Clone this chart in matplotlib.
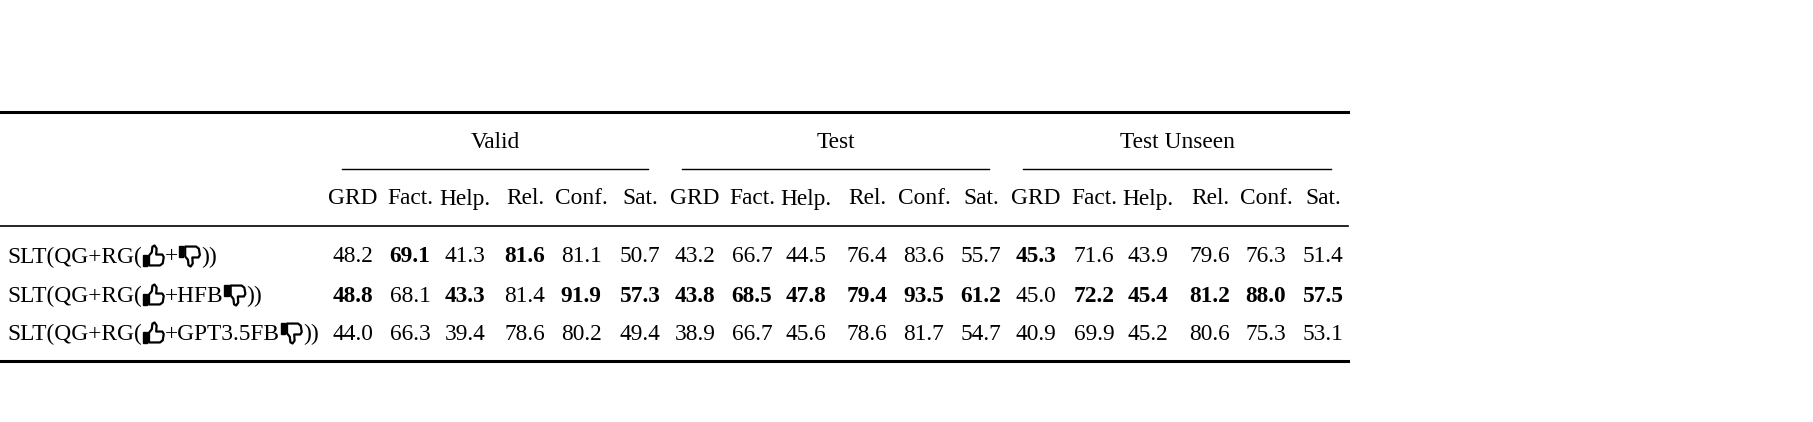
import matplotlib
matplotlib.use("Agg")
import matplotlib.pyplot as plt
from matplotlib.patches import Polygon, Rectangle

groups = ["Valid", "Test", "Test Unseen"]
metrics = ["GRD", "Fact.", "Help.", "Rel.", "Conf.", "Sat."]
# each label: text pieces, "UP"/"DOWN" stand for the thumb icons
row_labels = [
    ["SLT(QG+RG(", "UP", "+", "DOWN", "))"],
    ["SLT(QG+RG(", "UP", "+HFB", "DOWN", "))"],
    ["SLT(QG+RG(", "UP", "+GPT3.5FB", "DOWN", "))"],
]
row1 = [48.2, 69.1, 41.3, 81.6, 81.1, 50.7, 43.2, 66.7, 44.5, 76.4, 83.6, 55.7, 45.3, 71.6, 43.9, 79.6, 76.3, 51.4]
row2 = [48.8, 68.1, 43.3, 81.4, 91.9, 57.3, 43.8, 68.5, 47.8, 79.4, 93.5, 61.2, 45.0, 72.2, 45.4, 81.2, 88.0, 57.5]
row3 = [44.0, 66.3, 39.4, 78.6, 80.2, 49.4, 38.9, 66.7, 45.6, 78.6, 81.7, 54.7, 40.9, 69.9, 45.2, 80.6, 75.3, 53.1]
bold1 = [1, 3, 12]
bold2 = [0, 2, 4, 5, 6, 7, 8, 9, 10, 11, 13, 14, 15, 16, 17]
bold3 = []

W, H = 1813, 422
fig = plt.figure(figsize=(W / 100, H / 100), dpi=100)
ax = fig.add_axes([0, 0, 1, 1])
ax.set_xlim(0, W)
ax.set_ylim(H, 0)
ax.axis("off")
renderer = fig.canvas.get_renderer()

FONT = ["Liberation Serif", "DejaVu Sans"]
FS = 16.8

col_x = [353, 410, 465, 525, 581, 640,
         695, 752, 806, 867, 924, 981,
         1036, 1094, 1148, 1210, 1266, 1323]
group_x = [(342, 648), (682, 989), (1023, 1331)]
row_y = [257, 296, 334]

ax.plot([0, 1348], [112, 112], color="black", lw=2.2)
ax.plot([0, 1348], [226, 226], color="black", lw=1.2)
ax.plot([0, 1348], [361, 361], color="black", lw=2.2)

for g, (x0, x1) in zip(groups, group_x):
    ax.plot([x0, x1], [169, 169], color="black", lw=1.0)
    ax.text((x0 + x1) / 2, 143, g, ha="center", va="center", fontsize=FS, family=FONT)

for i, x in enumerate(col_x):
    ax.text(x, 199, metrics[i % 6], ha="center", va="center", fontsize=FS, family=FONT)

# thumb outline in unit box, y up
HAND = [(0.30, 0.05), (0.82, 0.05), (0.95, 0.15), (1.0, 0.45), (0.93, 0.57),
        (0.64, 0.57), (0.66, 0.86), (0.56, 1.0), (0.46, 0.94), (0.43, 0.68), (0.30, 0.52)]


def draw_thumb(x, y, up, size=21):
    # x = left edge, y = vertical centre (pixel coords, y grows downward)
    def tr(px, py):
        if not up:
            py = 1 - py
        return (x + px * size, y + size / 2 - py * size)
    ax.add_patch(Polygon([tr(px, py) for px, py in HAND], closed=True,
                         fill=False, ec="black", lw=1.6, joinstyle="round"))
    ya = tr(0, 0.02)[1]
    yb = tr(0, 0.55)[1]
    ax.add_patch(Rectangle((x, min(ya, yb)), 0.22 * size, abs(ya - yb), color="black"))
    return x + size + 1


for pieces, vals, bold, y in zip(row_labels, [row1, row2, row3], [bold1, bold2, bold3], row_y):
    x = 7
    for p in pieces:
        if p in ("UP", "DOWN"):
            x = draw_thumb(x + 1, y - 1, p == "UP")
        else:
            t = ax.text(x, y, p, ha="left", va="center", fontsize=FS, family=FONT)
            x = t.get_window_extent(renderer).x1
    for i, (cx, v) in enumerate(zip(col_x, vals)):
        ax.text(cx, y, f"{v:.1f}", ha="center", va="center", fontsize=FS, family=FONT,
                fontweight="bold" if i in bold else "normal")

fig.savefig("out.png", dpi=100)
